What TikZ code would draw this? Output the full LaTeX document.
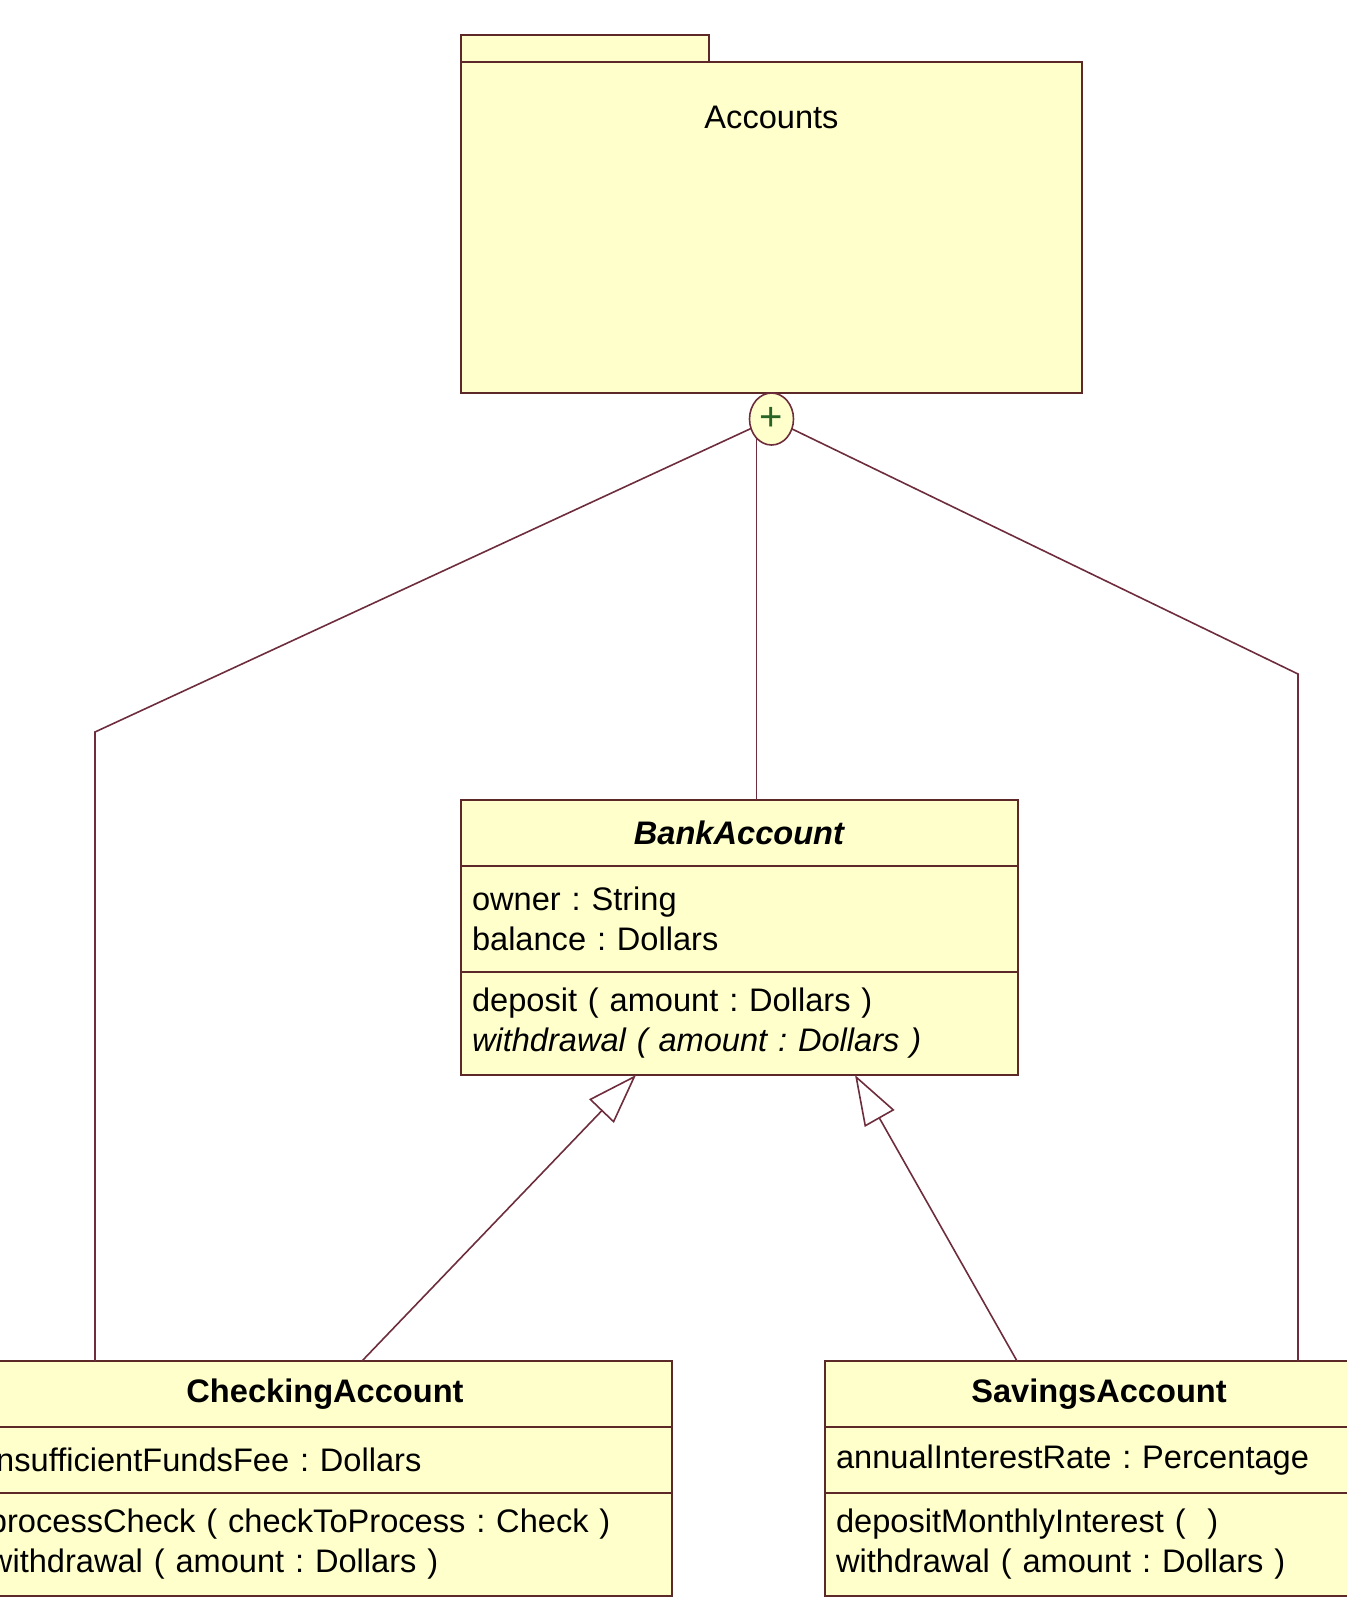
\documentclass[tikz,border=0pt]{standalone}
\usepackage{fontspec}
\setmainfont{Liberation Sans}
\usetikzlibrary{positioning,arrows.meta,shapes.geometric}
\frenchspacing

\definecolor{umlfill}{RGB}{255,255,204}
\definecolor{umlline}{RGB}{92,40,40}
\definecolor{linkline}{RGB}{110,45,60}
\definecolor{plusgreen}{RGB}{40,100,40}

\begin{document}
\begin{tikzpicture}[
    x=0.5pt, y=-0.5pt,                 % one unit = one pixel of the sketch
    font=\fontsize{16.3}{20}\selectfont,
    box/.style={draw=umlline, fill=umlfill, line width=1pt, outer sep=0pt},
    pkgbox/.style={box, inner sep=0pt},
    ctitle/.style={box, inner sep=0pt, minimum height=33pt,
                   font=\fontsize{16.3}{20}\selectfont\bfseries},
    cpart/.style={box, inner xsep=5.5pt, inner ysep=0pt, align=left},
    link/.style={draw=linkline, line width=0.8pt},
    generalize/.style={link, -{Triangle[open, length=25pt, width=17pt]}},
    plusmark/.style={ellipse, draw=linkline, fill=umlfill, line width=0.8pt,
                     minimum width=22pt, minimum height=26pt, inner sep=0pt,
                     outer sep=0pt, text=plusgreen,
                     font=\fontsize{20}{20}\selectfont},
 ]
    \useasboundingbox (0,0) rectangle (1347,1622);
    \clip (0,0) rectangle (1347,1622);

    % ~~~ the package ~~~~~~~~~~~~~~~~~~~~~~~~~~~~~~
    \node[pkgbox, anchor=north west, minimum width=310.5pt,
          minimum height=165.5pt] (pkg) at (461,62) {};
    \node[pkgbox, anchor=south west, minimum width=124pt,
          minimum height=13.5pt] (pkgtab) at (pkg.north west) {};
    \node (pkglabel) at ([yshift=-27.5pt]pkg.north) {Accounts};
    \node[plusmark, below=0pt of pkg.south] (plus) {+};

    % ~~~ abstract class ~~~~~~~~~~~~~~~~~~~~~~~~~~~
    \node[ctitle, anchor=north west, minimum width=278.5pt] (bank)
          at (461,800) {\textit{BankAccount}};
    \node[cpart, text width=267.5pt, minimum height=53pt,
          below=0pt of bank] (bankattr)
          {owner : String\\ balance : Dollars};
    \node[cpart, text width=267.5pt, minimum height=51.5pt,
          below=0pt of bankattr] (bankops)
          {deposit ( amount : Dollars )\\
           \textit{withdrawal ( amount : Dollars )}};

    % ~~~ subclasses ~~~~~~~~~~~~~~~~~~~~~~~~~~~~~~~
    \node[ctitle, anchor=north west, minimum width=347pt] (check)
          at (-22,1361) {CheckingAccount};
    \node[cpart, text width=336pt, minimum height=33pt,
          below=0pt of check] (checkattr)
          {insufficientFundsFee : Dollars};
    \node[cpart, text width=336pt, minimum height=51.5pt,
          below=0pt of checkattr] (checkops)
          {processCheck ( checkToProcess : Check )\\
           withdrawal ( amount : Dollars )};

    \node[ctitle, anchor=north west, minimum width=274pt] (sav)
          at (825,1361) {SavingsAccount};
    \node[cpart, text width=263pt, minimum height=33pt,
          below=0pt of sav] (savattr)
          {annualInterestRate : Percentage};
    \node[cpart, text width=263pt, minimum height=51.5pt,
          below=0pt of savattr] (savops)
          {depositMonthlyInterest ( \ )\\
           withdrawal ( amount : Dollars )};

    % ~~~ containment ~~~~~~~~~~~~~~~~~~~~~~~~~~~~~~
    \coordinate (bendL) at (95,732);
    \coordinate (bendR) at (1298,674);
    \draw[link] (plus) -- (bendL) -- (bendL |- check.north);
    \draw[link] (plus) -- (bendR) -- (bendR |- sav.north);
    \draw[link] (plus.-128) -- (plus.-128 |- bank.north);

    % ~~~ generalization ~~~~~~~~~~~~~~~~~~~~~~~~~~~
    \draw[generalize] ([xshift=18.5pt]check.north) -- ([xshift=-51.75pt]bankops.south);
    \draw[generalize] ([xshift=-41pt]sav.north) -- ([xshift=57.75pt]bankops.south);
\end{tikzpicture}
\end{document}
